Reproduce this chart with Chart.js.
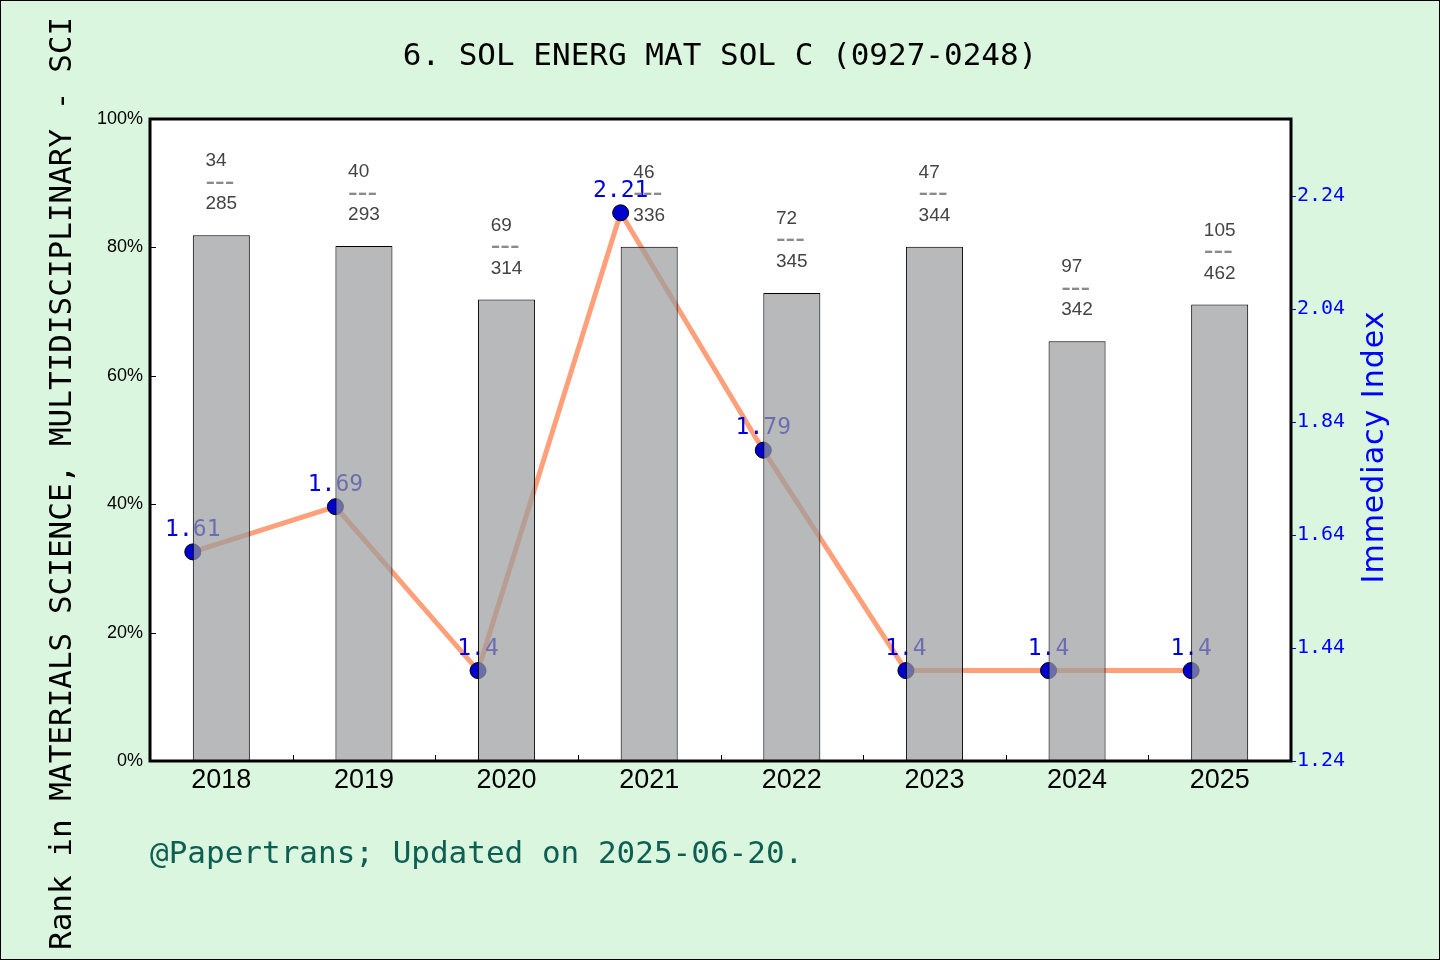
<!DOCTYPE html>
<html lang="en">
<head>
    <meta charset="UTF-8">
    <title>SOL ENERG MAT SOL C - Rank and Immediacy Index</title>
    <script src="https://cdn.jsdelivr.net/npm/chart.js"></script>
    <style>
        html, body { margin: 0; padding: 0; background: #daf6de; }
        canvas { display: block; }
    </style>
</head>
<body>
    <canvas id="rank-chart" width="1440" height="960"></canvas>
    <script>
        // values
        const years = ['2018', '2019', '2020', '2021', '2022', '2023', '2024', '2025'];
        const rankPercent = [81.9, 80.2, 71.9, 80.1, 72.9, 80.1, 65.4, 71.1];
        const rankPos = [34, 40, 69, 46, 72, 47, 97, 105];
        const rankTotal = [285, 293, 314, 336, 345, 344, 342, 462];
        const immediacy = [1.61, 1.69, 1.4, 2.21, 1.79, 1.4, 1.4, 1.4];
        const leftTicks = [0, 20, 40, 60, 80, 100];
        const rightTicks = [1.24, 1.44, 1.64, 1.84, 2.04, 2.24];

        const titleText = '6. SOL ENERG MAT SOL C (0927-0248)';
        const leftTitle = 'Rank in MATERIALS SCIENCE, MULTIDISCIPLINARY - SCI';
        const rightTitle = 'Immediacy Index';
        const footerText = '@Papertrans; Updated on 2025-06-20.';

        const MONO = '"DejaVu Sans Mono", "Liberation Mono", monospace';
        const SANS = '"Liberation Sans", Arial, sans-serif';

        const decorPlugin = {
            id: 'decor',
            beforeDraw(chart) {
                const c = chart.ctx, a = chart.chartArea;
                c.save();
                c.fillStyle = '#daf6de';
                c.fillRect(0, 0, chart.width, chart.height);
                c.fillStyle = '#ffffff';
                c.fillRect(a.left, a.top, a.right - a.left, a.bottom - a.top);
                c.restore();
            },
            afterDatasetDraw(chart, args) {
                // value labels of the line, drawn before the bars cover them
                if (args.index !== 1) return;
                const c = chart.ctx;
                const meta = chart.getDatasetMeta(1);
                c.save();
                c.font = '23px ' + MONO;
                c.fillStyle = '#0000dd';
                c.textAlign = 'center';
                c.textBaseline = 'alphabetic';
                meta.data.forEach((pt, i) => {
                    c.fillText(String(immediacy[i]), pt.x, pt.y - 16);
                });
                c.restore();
            },
            afterDatasetsDraw(chart) {
                const c = chart.ctx, a = chart.chartArea;
                const bars = chart.getDatasetMeta(0).data;
                c.save();
                // rank labels above bars
                bars.forEach((bar, i) => {
                    const lines = [String(rankPos[i]), '---', String(rankTotal[i])];
                    const fonts = ['19px ' + SANS, '29px ' + SANS, '19px ' + SANS];
                    let maxW = 0;
                    lines.forEach((t, k) => {
                        c.font = fonts[k];
                        maxW = Math.max(maxW, c.measureText(t).width);
                    });
                    const x0 = bar.x - maxW / 2;
                    c.textAlign = 'left';
                    c.textBaseline = 'middle';
                    lines.forEach((t, k) => {
                        c.font = fonts[k];
                        c.fillStyle = k === 1 ? '#8a8a8a' : '#444444';
                        c.fillText(t, x0, bar.y - 31 - (2 - k) * 21.5);
                    });
                });

                // tick marks
                const yS = chart.scales.y, yR = chart.scales.y1, xS = chart.scales.x;
                c.lineWidth = 1;
                c.strokeStyle = '#000';
                c.beginPath();
                leftTicks.forEach(v => {
                    const y = Math.round(yS.getPixelForValue(v)) + 0.5;
                    c.moveTo(a.left, y); c.lineTo(a.left + 6, y);
                });
                for (let i = 0; i < years.length - 1; i++) {
                    const x = Math.round((xS.getPixelForTick(i) + xS.getPixelForTick(i + 1)) / 2) + 0.5;
                    c.moveTo(x, a.bottom); c.lineTo(x, a.bottom - 6);
                }
                c.stroke();
                c.strokeStyle = '#0000ff';
                c.beginPath();
                rightTicks.forEach(v => {
                    const y = Math.round(yR.getPixelForValue(v)) + 0.5;
                    c.moveTo(a.right, y); c.lineTo(a.right + 5, y);
                });
                c.stroke();

                // plot frame
                c.lineWidth = 3;
                c.strokeStyle = '#000';
                c.strokeRect(a.left, a.top, a.right - a.left, a.bottom - a.top);

                // texts around the plot
                c.fillStyle = '#000';
                c.font = '31px ' + MONO;
                c.textAlign = 'center';
                c.textBaseline = 'middle';
                c.fillText(titleText, 720, 57);

                c.fillStyle = '#0d5e53';
                c.textAlign = 'left';
                c.fillText(footerText, 150, 855);

                c.save();
                c.translate(63, 950);
                c.rotate(-Math.PI / 2);
                c.fillStyle = '#000';
                c.textAlign = 'left';
                c.fillText(leftTitle, 0, 0);
                c.restore();

                c.save();
                c.translate(1375, 447);
                c.rotate(-Math.PI / 2);
                c.fillStyle = '#0000ff';
                c.font = '30px "DejaVu Sans", sans-serif';
                c.textAlign = 'center';
                c.letterSpacing = '1px';
                c.fillText(rightTitle, 0, 0);
                c.restore();

                // outer border
                c.lineWidth = 1;
                c.strokeStyle = '#000';
                c.strokeRect(0.5, 0.5, chart.width - 1, chart.height - 1);
                c.restore();
            }
        };

        const ctx = document.getElementById('rank-chart').getContext('2d');
        const rankChart = new Chart(ctx, {
            data: {
                labels: years,
                datasets: [{
                    type: 'bar',
                    label: 'Rank',
                    data: rankPercent,
                    xAxisID: 'x',
                    yAxisID: 'y',
                    order: 0,
                    grouped: false,
                    backgroundColor: 'rgba(154, 155, 157, 0.7)',
                    borderColor: '#000000',
                    borderWidth: 1,
                    borderSkipped: 'bottom',
                    categoryPercentage: 0.4,
                    barPercentage: 1.0
                }, {
                    type: 'line',
                    label: 'Immediacy Index',
                    data: immediacy.map((v, i) => ({ x: i, y: v })),
                    xAxisID: 'xl',
                    yAxisID: 'y1',
                    order: 1,
                    borderColor: '#ffa07a',
                    borderWidth: 5,
                    tension: 0,
                    pointRadius: 8,
                    pointBackgroundColor: '#0000cd',
                    pointBorderColor: '#000000',
                    pointBorderWidth: 1
                }]
            },
            options: {
                responsive: false,
                animation: false,
                layout: { padding: { top: 119, left: 0, right: 0, bottom: 0 } },
                plugins: {
                    legend: { display: false },
                    tooltip: { enabled: false }
                },
                scales: {
                    x: {
                        type: 'category',
                        offset: true,
                        grid: { display: false, drawTicks: false },
                        border: { display: false },
                        ticks: { color: '#000', padding: 3, font: { family: SANS, size: 27 } },
                        afterFit: s => { s.height = 199; }
                    },
                    xl: {
                        type: 'linear',
                        display: false,
                        min: -0.3,
                        max: 7.7
                    },
                    y: {
                        position: 'left',
                        min: 0,
                        max: 100,
                        afterBuildTicks: s => { s.ticks = leftTicks.map(v => ({ value: v })); },
                        grid: { display: false, drawTicks: false },
                        border: { display: false },
                        ticks: { color: '#000', padding: 7, font: { family: SANS, size: 18 }, callback: v => v + '%' },
                        afterFit: s => { s.width = 150; }
                    },
                    y1: {
                        position: 'right',
                        min: 1.24,
                        max: 2.376,
                        afterBuildTicks: s => { s.ticks = rightTicks.map(v => ({ value: v })); },
                        grid: { display: false, drawTicks: false },
                        border: { display: false },
                        ticks: { color: '#0000ff', padding: 6, font: { family: MONO, size: 20 }, callback: v => v.toFixed(2) },
                        afterFit: s => { s.width = 149; }
                    }
                }
            },
            plugins: [decorPlugin]
        });
    </script>
</body>
</html>
